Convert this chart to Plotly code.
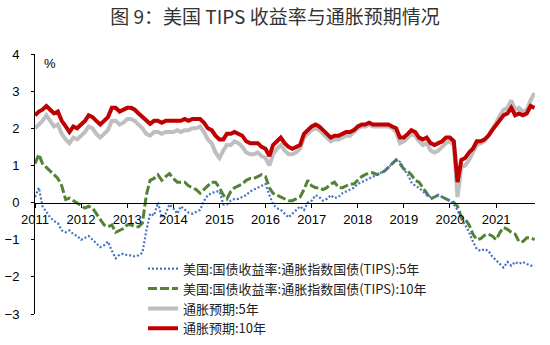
import pandas as pd
import plotly.graph_objects as go

# Monthly observations, Jan 2011 - Nov 2021 (%)
months = pd.date_range("2011-01-01", periods=131, freq="MS")

tips_5y = [
    0.15, 0.4, -0.1, -0.25, -0.4, -0.5, -0.55, -0.75, -0.8, -0.75, -0.85, -0.9,
    -1.0, -0.95, -0.9, -1.0, -1.1, -1.2, -1.15, -1.05, -1.3, -1.5, -1.4, -1.38,
    -1.42, -1.42, -1.45, -1.42, -1.35, -0.75, -0.3, -0.35, 0.0, -0.4, -0.3, -0.05,
    -0.15, -0.3, -0.1, -0.2, -0.27, -0.3, -0.25, -0.2, 0.05, 0.2, 0.25, 0.3,
    0.3, -0.05, -0.05, 0.05, 0.1, 0.1, 0.15, 0.2, 0.3, 0.35, 0.4, 0.45,
    0.5, 0.2, -0.05, -0.15, -0.2, -0.3, -0.4, -0.3, -0.2, -0.1, -0.2, 0.0,
    0.05, 0.2, 0.15, 0.05, 0.1, 0.2, 0.12, 0.15, 0.25, 0.3, 0.35, 0.4,
    0.5, 0.55, 0.6, 0.65, 0.7, 0.75, 0.8, 0.85, 0.95, 1.05, 1.15, 1.1,
    0.9, 0.75, 0.55, 0.45, 0.4, 0.3, 0.2, 0.15, 0.15, 0.2, 0.15, 0.1,
    0.05, -0.05, -0.2, -0.45, -0.6, -0.8, -1.05, -1.25, -1.3, -1.25, -1.3, -1.45,
    -1.55, -1.65, -1.75, -1.6, -1.7, -1.6, -1.65, -1.6, -1.65, -1.7, -1.7,
]

tips_10y = [
    1.05, 1.3, 1.05, 0.95, 0.85, 0.75, 0.65, 0.45, 0.08, 0.12, 0.05, -0.02,
    -0.1, -0.15, -0.1, -0.15, -0.3, -0.45, -0.6, -0.65, -0.6, -0.8, -0.75, -0.7,
    -0.6, -0.6, -0.65, -0.65, -0.55, 0.2, 0.6, 0.65, 0.75, 0.6, 0.7, 0.78,
    0.65, 0.55, 0.55, 0.55, 0.45, 0.4, 0.35, 0.25, 0.35, 0.45, 0.55, 0.55,
    0.4, 0.2, 0.1, 0.3, 0.4, 0.45, 0.5, 0.6, 0.65, 0.65, 0.7, 0.75,
    0.7, 0.4, 0.25, 0.2, 0.15, 0.1, 0.05, 0.05, 0.1, 0.15, 0.35, 0.6,
    0.45, 0.4, 0.4, 0.35, 0.4, 0.5, 0.55, 0.4, 0.4, 0.45, 0.5, 0.5,
    0.6, 0.7, 0.75, 0.8, 0.8, 0.75, 0.8, 0.85, 0.95, 1.05, 1.15, 1.05,
    0.9, 0.85, 0.75, 0.6, 0.55, 0.4, 0.25, 0.1, 0.15, 0.2, 0.15, 0.1,
    0.05, 0.0, -0.1, -0.4, -0.45, -0.6, -0.85, -1.0, -0.97, -0.88, -0.85, -0.9,
    -1.0, -0.8, -0.67, -0.72, -0.8, -0.85, -1.05, -1.05, -0.95, -0.95, -1.0,
]

breakeven_5y = [
    2.0, 2.1, 2.2, 2.35, 2.2, 2.05, 2.1, 1.85, 1.7, 1.6, 1.75, 1.7,
    1.8, 1.9, 2.05, 2.0, 1.85, 1.75, 1.85, 1.95, 2.2, 2.2, 2.1, 2.15,
    2.25, 2.25, 2.2, 2.1, 2.0, 1.85, 1.8, 1.9, 1.9, 1.85, 1.9, 1.9,
    1.9, 1.95, 1.9, 1.95, 1.95, 2.0, 2.0, 2.05, 1.9, 1.7, 1.6, 1.35,
    1.2, 1.4, 1.55, 1.55, 1.65, 1.6, 1.5, 1.35, 1.3, 1.3, 1.35, 1.25,
    1.2, 1.0, 1.3, 1.45, 1.55, 1.4, 1.3, 1.3, 1.35, 1.45, 1.75, 1.85,
    1.95, 2.0, 1.95, 1.85, 1.75, 1.65, 1.7, 1.7, 1.75, 1.8, 1.8, 1.9,
    2.0, 2.05, 2.05, 2.1, 2.05, 2.05, 2.05, 2.05, 2.05, 2.0, 1.9, 1.6,
    1.65, 1.75, 1.85, 1.8, 1.65, 1.55, 1.6, 1.4, 1.35, 1.4, 1.5, 1.6,
    1.65, 1.55, 0.15, 0.95, 1.0, 1.15, 1.35, 1.55, 1.6, 1.65, 1.8, 1.95,
    2.15, 2.35, 2.5, 2.55, 2.75, 2.5, 2.55, 2.45, 2.5, 2.75, 2.95,
]

breakeven_10y = [
    2.35, 2.45, 2.5, 2.6, 2.5, 2.4, 2.45, 2.2, 2.05, 1.9, 2.05, 2.0,
    2.1, 2.2, 2.35, 2.3, 2.2, 2.1, 2.2, 2.3, 2.55, 2.55, 2.45, 2.5,
    2.55, 2.55, 2.5, 2.4, 2.3, 2.2, 2.12, 2.2, 2.2, 2.15, 2.2, 2.2,
    2.2, 2.2, 2.2, 2.25, 2.2, 2.25, 2.25, 2.25, 2.15, 2.0, 1.95, 1.8,
    1.7, 1.7, 1.85, 1.85, 1.9, 1.85, 1.8, 1.65, 1.6, 1.6, 1.6, 1.5,
    1.45, 1.25, 1.55, 1.65, 1.75, 1.6, 1.5, 1.45, 1.5, 1.55, 1.85, 1.95,
    2.05, 2.1, 2.05, 1.95, 1.85, 1.75, 1.8, 1.8, 1.85, 1.9, 1.9, 1.95,
    2.05, 2.1, 2.1, 2.15, 2.1, 2.1, 2.1, 2.1, 2.1, 2.05, 2.0, 1.75,
    1.75, 1.85, 1.95, 1.9, 1.75, 1.7, 1.75, 1.6, 1.55, 1.6, 1.65, 1.75,
    1.75, 1.65, 0.55, 1.15, 1.2, 1.35, 1.45, 1.65, 1.65, 1.7, 1.8, 1.95,
    2.1, 2.25, 2.35, 2.4, 2.55, 2.35, 2.4, 2.35, 2.4, 2.6, 2.55,
]

series_names = [
    "美国:国债收益率:通胀指数国债(TIPS):5年",
    "美国:国债收益率:通胀指数国债(TIPS):10年",
    "通胀预期:5年",
    "通胀预期:10年",
]

CJK = "Noto Sans CJK SC"
LAT = "Liberation Sans"

fig = go.Figure()
# drawing order: breakevens underneath, TIPS yields on top
fig.add_trace(go.Scatter(x=months, y=breakeven_5y, name=series_names[2], mode="lines",
                         line=dict(color="#BFBFBF", width=4), legendrank=3))
fig.add_trace(go.Scatter(x=months, y=breakeven_10y, name=series_names[3], mode="lines",
                         line=dict(color="#C00000", width=4), legendrank=4))
fig.add_trace(go.Scatter(x=months, y=tips_10y, name=series_names[1], mode="lines",
                         line=dict(color="#548235", width=3, dash="9px,3px"), legendrank=2))
fig.add_trace(go.Scatter(x=months, y=tips_5y, name=series_names[0], mode="lines",
                         line=dict(color="#4472C4", width=2.2, dash="2px,2px"), legendrank=1))

fig.update_layout(
    width=550, height=345,
    margin=dict(l=35, r=15, t=54, b=31, autoexpand=False),
    paper_bgcolor="white", plot_bgcolor="white",
    font=dict(family=LAT, size=13, color="#222"),
    title=dict(text="图 9：美国 TIPS 收益率与通胀预期情况", x=0.5, xanchor="center",
               y=0.95, yanchor="middle", yref="container",
               font=dict(family=CJK, size=19, color="#333")),
    showlegend=True,
    legend=dict(x=0.216, xanchor="left", y=0.232, yanchor="top",
                bgcolor="rgba(0,0,0,0)", font=dict(family=CJK, size=13, color="#222"),
                tracegroupgap=0),
    xaxis=dict(range=["2011-01-01", "2021-11-05"], type="date",
               anchor="free", position=3 / 7,
               showline=True, linecolor="#000", linewidth=1,
               ticks="outside", ticklen=4, tickcolor="#000",
               dtick="M12", tick0="2011-01-01", tickformat="%Y",
               ticklabelstandoff=1,
               showgrid=False, zeroline=False,
               tickfont=dict(family=LAT, size=13, color="#000")),
    yaxis=dict(range=[-3, 4], dtick=1, showline=True, linecolor="#000", linewidth=1,
               ticks="outside", ticklen=3, tickcolor="#000", ticklabelstandoff=9,
               showgrid=False, zeroline=False,
               tickfont=dict(family=LAT, size=13, color="#000")),
    annotations=[dict(text="%", xref="paper", yref="paper", x=0.03, y=0.965,
                      xanchor="center", yanchor="middle", showarrow=False,
                      font=dict(family=LAT, size=13, color="#000"))],
)

fig.write_html("out.html")
